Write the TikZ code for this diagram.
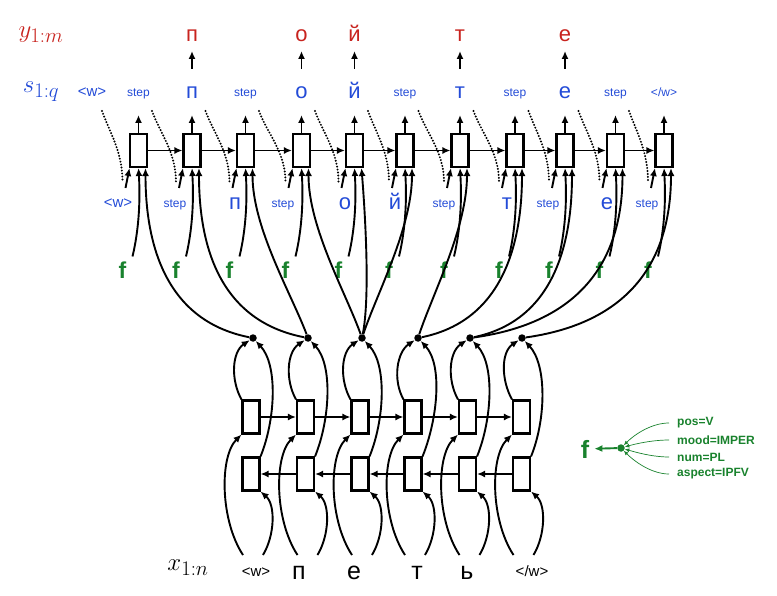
\documentclass[tikz,border=0pt]{standalone}
\usepackage{fontspec}
\usetikzlibrary{arrows.meta,calc}
\newfontfamily\hv{Liberation Sans}
\definecolor{sblue}{RGB}{35,75,215}
\definecolor{yred}{RGB}{200,35,30}
\definecolor{fgreen}{RGB}{25,130,45}
\newcommand{\idx}[1]{\mbox{\fontsize{20}{20}\selectfont$#1$}}

\begin{document}
\begin{tikzpicture}[
  x=1pt,y=-1pt,
  arr/.style={-{Latex[length=8pt,width=7pt]},line width=1.9pt},
  farr/.style={-{Latex[length=4.5pt,width=4pt]},line width=0.7pt,fgreen},
  dline/.style={line width=2.2pt,line cap=round,dash pattern=on 0pt off 3pt},
  cell/.style={draw,line width=2.1pt,minimum width=17pt,minimum height=33pt,inner sep=0pt},
  dot/.style={circle,fill,inner sep=0pt,minimum size=7.5pt},
  lab/.style={inner sep=0pt,text height=6.2pt,text depth=0pt,font=\hv\fontsize{12}{14}\selectfont},
  tag/.style={inner sep=0pt,text height=7.8pt,text depth=0pt,font=\hv\fontsize{15}{17}\selectfont},
  cyr/.style={inner sep=0pt,text height=11.4pt,text depth=0pt,font=\hv\fontsize{22}{24}\selectfont},
  cyrx/.style={inner sep=0pt,text height=13pt,text depth=0pt,font=\hv\fontsize{25}{27}\selectfont},
  ftag/.style={inner sep=1pt,text=fgreen,font=\hv\bfseries\fontsize{23}{25}\selectfont},
  feat/.style={anchor=west,inner sep=0pt,text=fgreen,font=\hv\bfseries\fontsize{12}{14}\selectfont},
  var/.style={inner sep=0pt,font=\fontsize{26}{28}\selectfont}
]
  \useasboundingbox (0,0) rectangle (777,596);

  \node[var,text=yred] (ym) at (41,35) {$y_{\idx{1{:}m}}$};
  \node[var,text=sblue] (sq) at (41,92) {$s_{\idx{1{:}q}}$};
  \node[var] (xn) at (188,568) {$x_{\idx{1{:}n}}$};
  \node[tag,text=sblue] (s0) at (92,93) {<w>};

  \foreach \x/\px/\tsty/\ttxt/\bx/\bsty/\btxt [count=\i] in {
    138.5/88.5/lab/step/118/tag/<w>,
    192/138.5/cyr/п/175/lab/step,
    245.5/192/lab/step/235/cyr/п,
    301.5/245.5/cyr/о/283/lab/step,
    354.5/301.5/cyr/й/345/cyr/о,
    405/354.5/lab/step/395/cyr/й,
    460/405/cyr/т/444/lab/step,
    515/460/lab/step/507/cyr/т,
    565/515/cyr/е/548/lab/step,
    615.5/565/lab/step/607/cyr/е,
    664/615.5/lab/{</w>}/647/lab/step} {
    \node[cell] (d\i) at (\x,150.5) {};
    \node[\tsty,text=sblue] (s\i) at (\x,93) {\ttxt};
    \node[\bsty,text=sblue] (i\i) at (\bx,204) {\btxt};
    \node[ftag] (f\i) at (\x-16,270) {f};
    \coordinate (o\i) at (\x,115);
    \coordinate (p\i) at (\px+13.5,111);
    \coordinate (q\i) at (\x-16,182);
    \coordinate (r\i) at (\x-13,188);
    \draw[arr] (d\i) -- (o\i);
    \draw[dline] (p\i) .. controls +(8,22) and +(0,-30) .. (q\i);
    \draw[arr] (r\i) -- ($(d\i.south)+(-9,0)$);
    \draw[arr] ($(f\i.north)+(10,-4)$) .. controls +(6,-25) and +(2,35) .. (d\i.south);
  }
  \foreach \i in {1,...,10} {
    \pgfmathtruncatemacro\j{\i+1}
    \draw[arr] (d\i) -- (d\j);
  }

  \foreach \x/\ltr [count=\k] in {192/п,301.5/о,354.5/й,460/т,565/е} {
    \node[cyr,text=yred] (y\k) at (\x,36) {\ltr};
    \coordinate (u\k) at (\x,69);
    \coordinate (v\k) at (\x,51);
    \draw[arr] (u\k) -- (v\k);
  }

  \foreach \x/\a/\lx/\lsty/\ltxt [count=\i] in {
    251/253/256/tag/<w>,
    305.5/308/299/cyrx/п,
    360/362/354/cyrx/е,
    413/418/417/cyrx/т,
    467.5/470/467/cyrx/ь,
    521.5/522/532/tag/{</w>}} {
    \node[cell] (fw\i) at (\x,417) {};
    \node[cell] (bw\i) at (\x,474) {};
    \node[dot] (a\i) at (\a,338) {};
    \node[\lsty] (x\i) at (\lx,573) {\ltxt};
    \coordinate (xl\i) at (\x-8,555);
    \coordinate (xr\i) at (\x+12,555);
    \draw[arr] (xl\i) .. controls +(-23,-35) and +(-22,22) .. (fw\i.south west);
    \draw[arr] (xr\i) .. controls +(12,-20) and +(15,13) .. (bw\i.south east);
    \draw[arr] (fw\i.north west) .. controls +(-11,-20) and +(-21,14) .. (a\i);
    \draw[arr] (bw\i.north east) .. controls +(15,-37) and +(25,27) .. (a\i);
  }
  \foreach \i in {1,...,5} {
    \pgfmathtruncatemacro\j{\i+1}
    \draw[arr] (fw\i) -- (fw\j);
    \draw[arr] (bw\j) -- (bw\i);
  }

  \foreach \k/\i/\cx/\cy/\ex/\ey in {1/1/-91/-18/0/70, 2/2/-93/-18/0/70,
    2/3/-17/-45/0/60, 3/4/-16/-45/0/60, 3/5/8/-40/4/50, 3/6/15/-45/0/60,
    4/7/15/-45/0/60, 4/8/88/-18/0/70, 5/9/87/-18/0/70, 5/10/130/-18/0/70,
    6/11/127/-18/0/70}
    \draw[arr] (a\k) .. controls +(\cx,\cy) and +(\ex,\ey) .. ($(d\i.south)+(7,0)$);

  \node[ftag,font=\hv\bfseries\fontsize{25}{27}\selectfont] (fl) at (585,449) {f};
  \node[dot,fill=fgreen] (fd) at (621,448) {};
  \draw[arr,fgreen,shorten >=4pt] (fd) -- (fl);
  \foreach \t/\yy/\c [count=\n] in {pos=V/423/-14, mood=IMPER/440/-4,
    num=PL/457/4, aspect=IPFV/474/14} {
    \node[feat] (g\n) at (677,\yy) {\t};
    \draw[farr,shorten <=8pt] (g\n.west) .. controls +(-25,0) and +(14,\c) .. (fd);
  }
\end{tikzpicture}
\end{document}
